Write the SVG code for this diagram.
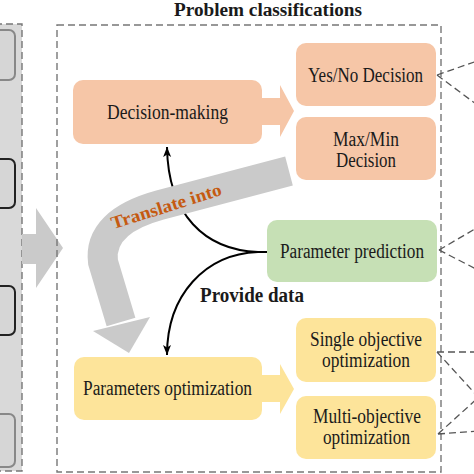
<svg xmlns="http://www.w3.org/2000/svg" width="474" height="474" viewBox="0 0 474 474">
<defs>
<style>
.t{font-size:20px;fill:#1a1a1a;text-anchor:middle}
.b{font-weight:bold}
.peach{fill:#f6c6a7}
.green{fill:#c6e0b5}
.yellow{fill:#fde49a}
.dash{fill:none;stroke:#777;stroke-width:1.4;stroke-dasharray:7 4}
.rdash{fill:none;stroke:#555;stroke-width:1.3;stroke-dasharray:7 4}
.lbox{fill:#d6d6d6;stroke-width:2}
.curve{fill:none;stroke:#000;stroke-width:2}
</style>
<marker id="ah" markerUnits="userSpaceOnUse" markerWidth="12" markerHeight="10" refX="10" refY="4" orient="auto">
<path d="M0,0 L10,4 L0,8 L2.5,4 Z" fill="#000"/>
</marker>
</defs>
<rect width="474" height="474" fill="#fff"/>
<g font-family="'Liberation Serif', serif">

<g id="left-panel">
<rect x="-5" y="24" width="27" height="447" style="fill:#d9d9d9" class="dash"/>
<rect x="-12" y="30" width="27" height="50" rx="6" class="lbox" stroke="#888"/>
<rect x="-12" y="159" width="27" height="49" rx="6" class="lbox" stroke="#222"/>
<rect x="-12" y="286" width="27" height="49" rx="6" class="lbox" stroke="#222"/>
<rect x="-12" y="414" width="27" height="53" rx="6" class="lbox" stroke="#888"/>
</g>

<g id="big-arrow">
<polygon points="22,234 36,234 36,208 63,248 36,288 36,264 22,264" fill="#cacaca"/>
</g>

<g id="problem-box">
<rect x="57" y="25" width="384" height="447" class="dash"/>
<text class="t b" x="268" y="16" style="font-size:18px" textLength="188" lengthAdjust="spacingAndGlyphs">Problem classifications</text>
</g>

<g id="connectors">
<path class="curve" d="M268,252 L258,252"/>
<path class="curve" d="M258,252 C205,250 168,215 167,147" marker-end="url(#ah)"/>
<path class="curve" d="M258,252 C205,254 167,295 167,355" marker-end="url(#ah)"/>
<path d="M289,171 L160,205 Q98,222 103,262 L121,322" fill="none" stroke="#cacaca" stroke-width="30"/>
<polygon points="93,331 150,317 129,353" fill="#cacaca"/>
<text class="t b" x="168" y="212" style="font-size:18px;fill:#c55a11" textLength="115" lengthAdjust="spacingAndGlyphs" transform="rotate(-17.5 168 212)">Translate into</text>
<polygon class="peach" points="262,98 280,98 280,85 294,111 280,137 280,125 262,125"/>
<polygon class="yellow" points="262,375 280,375 280,364 294,389 280,414 280,402 262,402"/>
<path class="rdash" d="M437,75 L480,60 M437,75 L480,107"/>
<path class="rdash" d="M439,250 L480,226 M439,250 L480,271"/>
<path class="rdash" d="M437,352 L480,352 M437,352 L480,399 M438,434 L480,396 M438,434 L480,431"/>
</g>

<g id="decision-making">
<rect x="73" y="80" width="189" height="64" rx="10" class="peach"/>
<text class="t" x="167.5" y="119" textLength="121" lengthAdjust="spacingAndGlyphs">Decision-making</text>
</g>

<g id="yes-no">
<rect x="296" y="43" width="140" height="63" rx="10" class="peach"/>
<text class="t" x="365.5" y="82" textLength="115" lengthAdjust="spacingAndGlyphs">Yes/No Decision</text>
</g>

<g id="max-min">
<rect x="296" y="117" width="140" height="63" rx="10" class="peach"/>
<text class="t" x="366" y="146" textLength="66" lengthAdjust="spacingAndGlyphs">Max/Min</text>
<text class="t" x="366" y="167" textLength="60" lengthAdjust="spacingAndGlyphs">Decision</text>
</g>

<g id="parameter-prediction">
<rect x="267" y="220" width="170" height="62" rx="10" class="green"/>
<text class="t" x="352" y="258" textLength="144" lengthAdjust="spacingAndGlyphs">Parameter prediction</text>
</g>

<g id="provide-data">
<text class="t b" x="252" y="302" textLength="104" lengthAdjust="spacingAndGlyphs">Provide data</text>
</g>

<g id="parameters-optimization">
<rect x="74" y="357" width="188" height="63" rx="10" class="yellow"/>
<text class="t" x="167.5" y="395" textLength="169" lengthAdjust="spacingAndGlyphs">Parameters optimization</text>
</g>

<g id="single-objective">
<rect x="296" y="318" width="140" height="64" rx="10" class="yellow"/>
<text class="t" x="366" y="346" textLength="112" lengthAdjust="spacingAndGlyphs">Single objective</text>
<text class="t" x="366" y="367" textLength="88" lengthAdjust="spacingAndGlyphs">optimization</text>
</g>

<g id="multi-objective">
<rect x="296" y="396" width="140" height="63" rx="10" class="yellow"/>
<text class="t" x="367" y="423" textLength="108" lengthAdjust="spacingAndGlyphs">Multi-objective</text>
<text class="t" x="366.5" y="444" textLength="87" lengthAdjust="spacingAndGlyphs">optimization</text>
</g>
</g>
</svg>
